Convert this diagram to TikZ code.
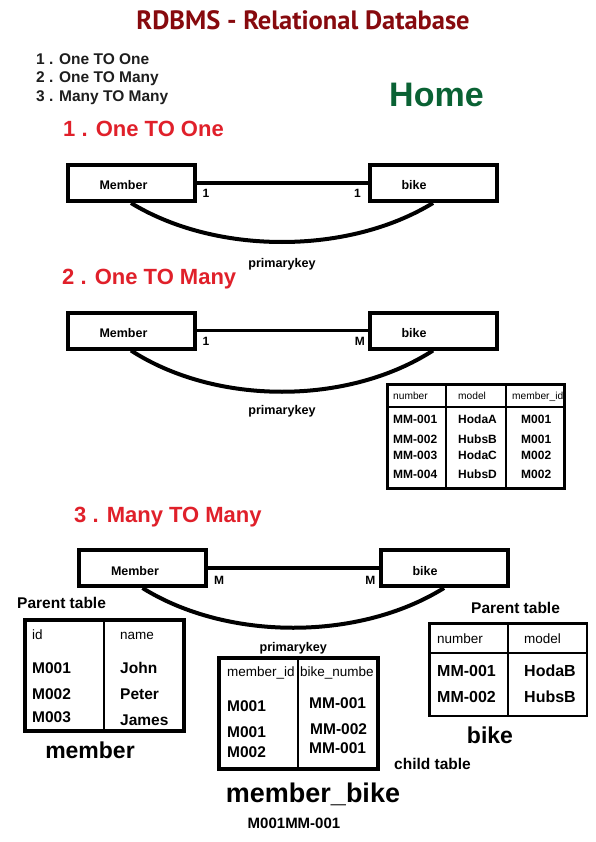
\documentclass[tikz,border=0pt]{standalone}
\usepackage{fontspec}
\setmainfont{Liberation Sans}
\newfontfamily\headfont{PT Sans}
\usetikzlibrary{positioning,calc}
\definecolor{titlered}{RGB}{135,10,14}
\definecolor{secred}{RGB}{224,32,42}
\definecolor{homegreen}{RGB}{10,98,52}
\definecolor{listgray}{RGB}{30,30,30}

\begin{document}
\begin{tikzpicture}[x=1pt,y=-1pt,
  erbox/.style={draw,line width=4pt,minimum height=36pt,text width=63pt,inner xsep=32pt,align=left,text height=14pt,text depth=0pt,font=\fontsize{12.5}{14}\selectfont\bfseries},
  link/.style={line width=3.3pt},
  curve/.style={line width=4pt},
  card/.style={anchor=base west,inner sep=0pt,font=\fontsize{12}{14}\selectfont\bfseries},
  key/.style={inner sep=0pt,font=\fontsize{12.6}{14}\selectfont\bfseries},
  sec/.style={anchor=base west,inner sep=0pt,text=secred,font=\fontsize{22}{26}\selectfont\bfseries},
  txt/.style={anchor=base west,inner sep=0pt,font=\fontsize{#1}{#1}\selectfont},
  btxt/.style={anchor=base west,inner sep=0pt,font=\fontsize{#1}{#1}\selectfont\bfseries},
  big/.style={anchor=base,inner sep=0pt,font=\fontsize{#1}{#1}\selectfont\bfseries},
  thickframe/.style={line width=4pt},
  thinframe/.style={line width=2.5pt},
  gridline/.style={line width=2pt}]
\fill[white] (0,0) rectangle (595,842);

% headings
\node[anchor=base,inner sep=0pt,text=titlered,font=\headfont\fontsize{26.5}{28}\selectfont\bfseries] (title) at (303,30) {RDBMS - Relational Database};
\node[btxt=15.5,text=listgray] (l1) at (36,65) {1 . One TO One};
\node[btxt=15.5,text=listgray] (l2) at (36,83) {2 . One TO Many};
\node[btxt=15.5,text=listgray] (l3) at (36,102) {3 . Many TO Many};
\node[btxt=34,text=homegreen] (home) at (389,107) {Home};

% 1 . one to one
\node[sec] (s1) at (63,137) {1 . One TO One};
\node[erbox] (m1) at (131,183) {Member};
\node[erbox] (b1) at (433,183) {bike};
\draw[link] (m1.east) -- (b1.west);
\node[card] (c1a) at ($(m1.east)+(6,15)$) {1};
\node[card,anchor=base east] (c1b) at ($(b1.west)+(-6.5,15)$) {1};
\draw[curve] (m1.south) .. controls +(85,52) and +(-85,52) .. (b1.south)
  node[key,midway,below=14pt] (k1) {primarykey};

% 2 . one to many
\node[sec] (s2) at (62,284) {2 . One TO Many};
\node[erbox] (m2) at (131,330.5) {Member};
\node[erbox] (b2) at (433,330.5) {bike};
\draw[link] (m2.east) -- (b2.west);
\node[card] (c2a) at ($(m2.east)+(6,14.5)$) {1};
\node[card,anchor=base east] (c2b) at ($(b2.west)+(-2.5,14.5)$) {M};
\draw[curve] (m2.south) .. controls +(85,55) and +(-85,55) .. (b2.south)
  node[key,midway,below=12pt] (k2) {primarykey};

\draw[thinframe] (387.5,384.5) rectangle (564.5,488.5);
\draw[gridline] (446,384.5) -- (446,488.5) (506,384.5) -- (506,488.5) (387.5,407) -- (564.5,407);
\node[txt=10.2] (h2a) at (393,399) {number};
\node[txt=10.2] (h2b) at (458,399) {model};
\node[txt=10.2] (h2c) at (512,399) {member\_id};
\foreach \n/\yy/\a/\b/\c in {1/423/MM-001/HodaA/M001,2/443/MM-002/HubsB/M001,3/459/MM-003/HodaC/M002,4/478/MM-004/HubsD/M002}{
  \node[btxt=12] (bn\n) at (393,\yy) {\a};
  \node[btxt=12] (bm\n) at (458,\yy) {\b};
  \node[btxt=12] (bi\n) at (521,\yy) {\c};
}

% 3 . many to many
\node[sec] (s3) at (74,522) {3 . Many TO Many};
\node[erbox] (m3) at (142.5,568) {Member};
\node[erbox] (b3) at (444,568) {bike};
\draw[link] (m3.east) -- (b3.west);
\node[card] (c3a) at ($(m3.east)+(6,16)$) {M};
\node[card,anchor=base east] (c3b) at ($(b3.west)+(-3,16)$) {M};
\draw[curve] (m3.south) .. controls +(85,53) and +(-85,53) .. (b3.south)
  node[key,midway,below=13pt] (k3) {primarykey};

% member table
\node[btxt=15.5] (pt1) at (17,608) {Parent table};
\draw[thickframe] (25,620) rectangle (184,731);
\draw[gridline] (104,620) -- (104,731);
\node[txt=13.5] (ha) at (32,639) {id};
\node[txt=13.5] (hb) at (120,639) {name};
\foreach \n/\ya/\a/\yb/\b in {1/673/M001/673/John,2/699/M002/699/Peter,3/722/M003/725/James}{
  \node[btxt=15.5] (mi\n) at (32,\ya) {\a};
  \node[btxt=15.5] (mn\n) at (120,\yb) {\b};
}
\node[big=23] (mem) at (90,758) {member};

% member_bike table
\draw[thickframe] (219,658) rectangle (378,769);
\draw[gridline] (298,658) -- (298,769);
\node[txt=13.5] (hc) at (227,676) {member\_id};
\node[txt=13.5] (hd) at (300,676) {bike\_numbe};
\foreach \n/\ya/\a/\xb/\yb/\b in {1/711/M001/309/708/MM-001,2/737/M001/310/734/MM-002,3/757/M002/309/753/MM-001}{
  \node[btxt=15.5] (ci\n) at (227,\ya) {\a};
  \node[btxt=15.5] (cb\n) at (\xb,\yb) {\b};
}
\node[btxt=15.5] (child) at (394,769) {child table};
\node[big=27] (mb) at (313,802) {member\_bike};
\node[big=15] (mbk) at (294,828) {M001MM-001};

% bike table
\node[btxt=15.5] (pt2) at (471,613) {Parent table};
\draw[thinframe] (429.25,623.25) rectangle (586.75,715.75);
\draw[gridline] (508,623.25) -- (508,715.75) (429.25,653) -- (586.75,653);
\node[txt=13.5] (he) at (437,643) {number};
\node[txt=13.5] (hf) at (524,643) {model};
\foreach \n/\yy/\a/\b in {1/676/MM-001/HodaB,2/702/MM-002/HubsB}{
  \node[btxt=16] (rn\n) at (437,\yy) {\a};
  \node[btxt=16] (rm\n) at (524,\yy) {\b};
}
\node[big=23] (bk) at (490,743) {bike};
\end{tikzpicture}
\end{document}
